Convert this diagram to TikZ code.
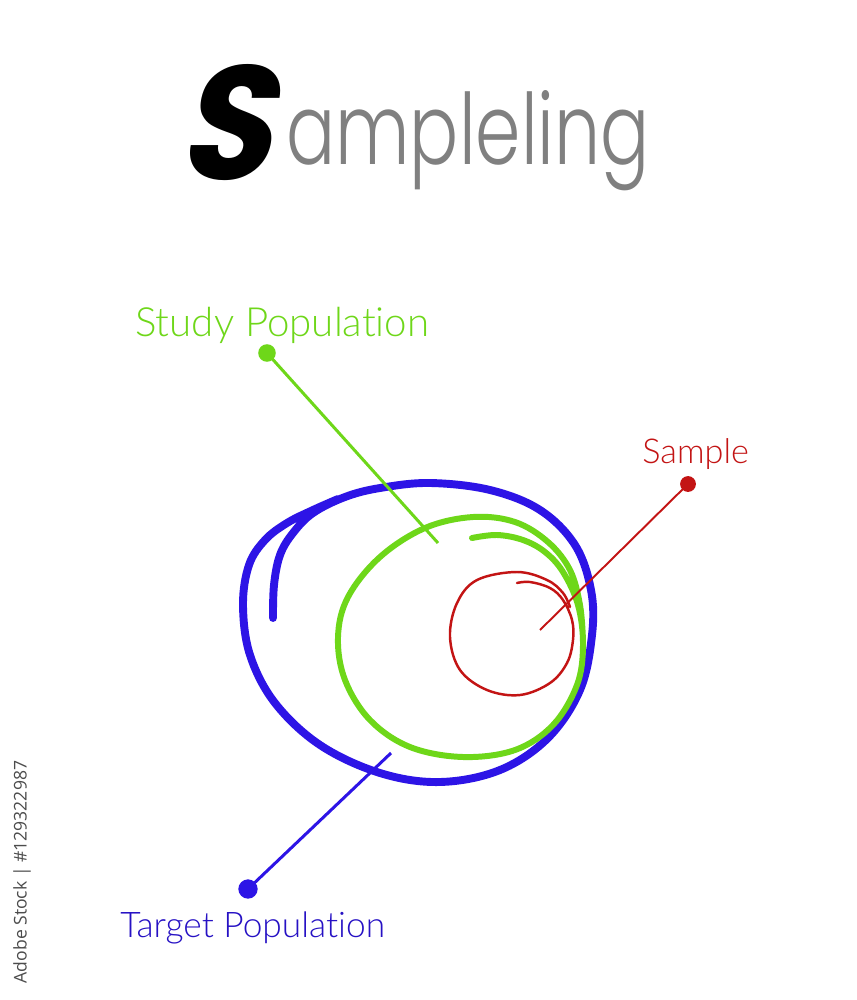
\documentclass[tikz,border=0pt]{standalone}
\usepackage{fontspec}
\setmainfont{Lato}
\newfontfamily\labelfont{Lato}[UprightFont=* Light,Ligatures={NoCommon,NoContextual}]
\newfontfamily\titlefont{Poppins}[UprightFont=* Light,FakeStretch=0.74]
\newfontfamily\initfont{Poppins}[UprightFont=* Bold,FakeSlant=0.22,FakeStretch=0.93]
\newfontfamily\stockfont{Open Sans}
\usepackage{tikz}
\usetikzlibrary{positioning}
\definecolor{targetblue}{RGB}{45,20,230}
\definecolor{studygreen}{RGB}{110,215,25}
\definecolor{samplered}{RGB}{195,20,20}
\definecolor{titlegray}{RGB}{128,128,128}

\begin{document}
\begin{tikzpicture}[x=0.02cm,y=-0.02cm,
    dot/.style={circle,fill=#1,inner sep=0pt},
    loop/.style={line cap=round,line join=round}]
  \fill[white] (0,0) rectangle (857,1000);
  \useasboundingbox (0,0) rectangle (857,1000);
  % title
  \node[anchor=base west,inner sep=0pt] (titleS) at (177,180)
       {\initfont\fontsize{92}{96}\selectfont S};
  \node[anchor=base west,inner sep=0pt,text=titlegray] (titlerest) at (286,165)
       {\titlefont\fontsize{56}{60}\selectfont ampleling};
  % target population (outer loop)
  \draw[targetblue,line width=4.5pt,loop] plot[smooth,tension=0.6] coordinates {
    (273,618) (274,585) (280,555) (293,533) (313,513) (345,497) (380,488)
    (430,483) (490,490) (540,510) (575,545) (591,590) (592,635) (580,690)
    (548,738) (500,770) (440,782) (380,773) (320,745) (275,703) (250,655)
    (243,605) (249,565) (265,540) (287,523) (313,510) (338,499)};
  % study population (middle loop)
  \draw[studygreen,line width=3.4pt,loop] plot[smooth,tension=0.6] coordinates {
    (472,538) (497,535) (523,540) (545,552) (563,572) (578,605) (583,645)
    (577,685) (553,725) (515,750) (463,757) (410,747) (370,720) (345,680)
    (338,637) (348,597) (380,557) (425,528) (473,517) (515,522) (548,542)
    (570,570) (580,605) (583,640)};
  % sample (inner loop)
  \draw[samplered,line width=1.4pt,loop] plot[smooth,tension=0.6] coordinates {
    (517,583) (530,582) (550,588) (563,600) (572,620) (573,640) (567,663)
    (550,683) (520,695) (487,690) (460,670) (450,637) (457,603) (477,580)
    (517,572) (547,580) (563,593) (570,607)};
  % pointers
  \node[dot=studygreen,minimum size=10pt] (studydot) at (267,353) {};
  \node[dot=samplered,minimum size=9pt] (sampledot) at (688,484) {};
  \node[dot=targetblue,minimum size=11pt] (targetdot) at (248,889) {};
  \coordinate (studyend) at (438,543);
  \coordinate (sampleend) at (540,630);
  \coordinate (targetend) at (391,753);
  \draw[studygreen,line width=1.7pt] (studydot.center) -- (studyend);
  \draw[samplered,line width=1.1pt] (sampledot.center) -- (sampleend);
  \draw[targetblue,line width=1.7pt] (targetdot.center) -- (targetend);
  % labels
  \node[anchor=base west,inner sep=0pt,text=studygreen] (studylabel) at (135,336)
       {\labelfont\fontsize{22.9}{26}\selectfont Study Population};
  \node[anchor=base west,inner sep=0pt,text=samplered] (samplelabel) at (642,463)
       {\labelfont\fontsize{19.5}{22}\selectfont Sample};
  \node[anchor=base west,inner sep=0pt,text=targetblue!85!black] (targetlabel) at (120,937)
       {\labelfont\fontsize{20.1}{23}\selectfont Target Population};
  \node[rotate=90,inner sep=0pt,text=black!70] (stocktag) at (22,872)
       {\stockfont\fontsize{10}{12}\selectfont Adobe Stock | \#129322987};
\end{tikzpicture}
\end{document}
